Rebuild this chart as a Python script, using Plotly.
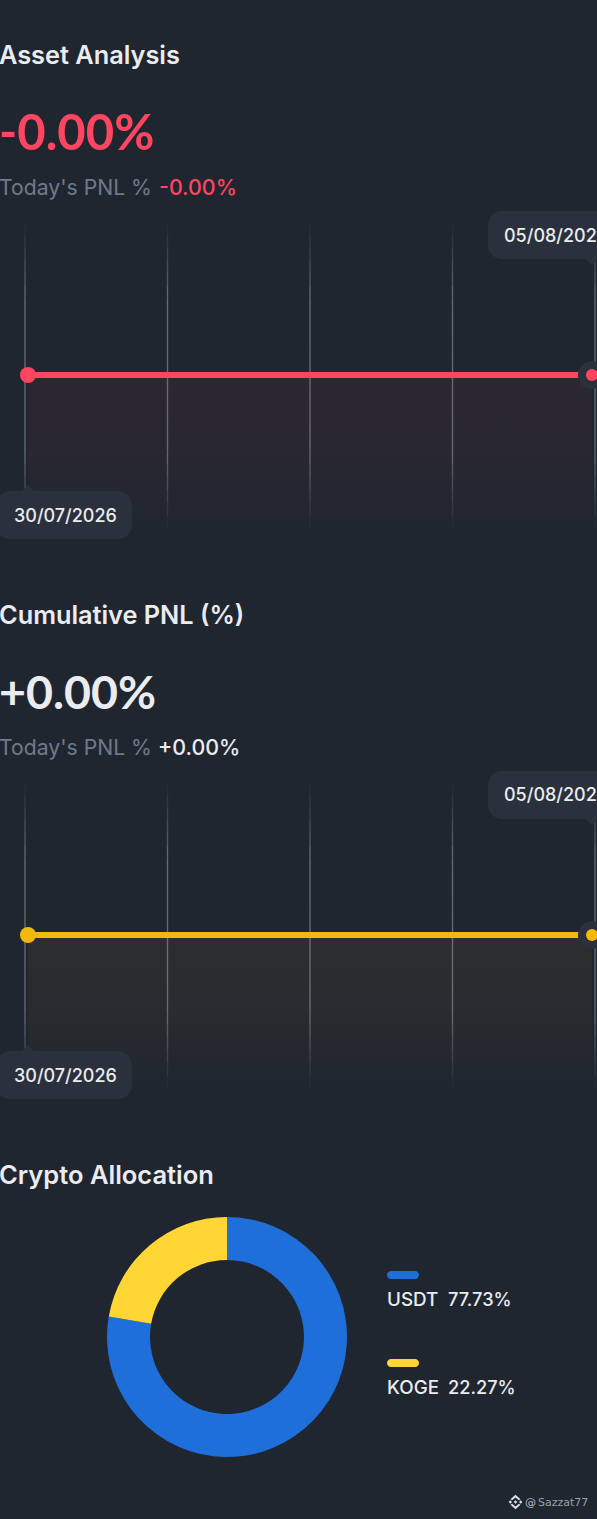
import plotly.graph_objects as go
import pandas as pd

W, H = 597, 1519
BG = "#202630"
TIP = "#2A303C"
TEXT = "#EAECEF"
MUTED = "#707A8A"
RED = "#FF4560"
GOLD = "#F0B90B"
FONT = "Inter"

dates = ["2026-07-30", "2026-07-31", "2026-08-01", "2026-08-02", "2026-08-03", "2026-08-04", "2026-08-05"]
asset_pnl = [0, 0, 0, 0, 0, 0, 0]
cumulative_pnl = [0, 0, 0, 0, 0, 0, 0]
tick_fracs = [0, 0.25, 0.5, 0.75, 1]
alloc_labels = ["USDT", "KOGE"]
alloc_values = [77.73, 22.27]
alloc_colors = ["#1F6FDB", "#FFD633"]


def px(x):
    return x / W


def py(y):
    return 1 - y / H


fig = go.Figure()
shapes, annotations = [], []


def text(x, y, s, size, color, weight=400, family=FONT, anchor="left"):
    annotations.append(dict(
        x=px(x), y=py(y), xref="paper", yref="paper", xanchor=anchor, yanchor="middle",
        text=s, showarrow=False, borderpad=0, borderwidth=0,
        font=dict(size=size, color=color, family=family, weight=weight),
    ))


def path_shape(points_path, fill):
    shapes.append(dict(type="path", path=points_path, xref="paper", yref="paper",
                       fillcolor=fill, line=dict(width=0), layer="above"))


def rrect(x0, y0, x1, y1, r):
    k = 0.45 * r
    def P(x, y):
        return f"{px(x):.6f},{py(y):.6f}"
    return (f"M{P(x0+r,y0)} L{P(x1-r,y0)} C{P(x1-k,y0)} {P(x1,y0+k)} {P(x1,y0+r)} "
            f"L{P(x1,y1-r)} C{P(x1,y1-k)} {P(x1-k,y1)} {P(x1-r,y1)} "
            f"L{P(x0+r,y1)} C{P(x0+k,y1)} {P(x0,y1-k)} {P(x0,y1-r)} "
            f"L{P(x0,y0+r)} C{P(x0,y0+k)} {P(x0+k,y0)} {P(x0+r,y0)} Z")


def poly(pts):
    return "M" + " L".join(f"{px(x):.6f},{py(y):.6f}" for x, y in pts) + " Z"


def panel(idx, top, values, color, fill_rgb, title, big, sub):
    """top = y pixel of the section's title centre"""
    ax = "" if idx == 1 else str(idx)
    plot_top, plot_bot = top + 167, top + 473
    day_frac = 3 / 94
    t0 = pd.Timestamp(dates[0]) - pd.Timedelta(days=day_frac)
    t1 = pd.Timestamp(dates[-1]) + pd.Timedelta(days=day_frac)
    fig.update_layout({
        f"xaxis{ax}": dict(domain=[px(25), px(595)], range=[t0, t1], type="date", visible=False,
                           anchor=f"y{ax}", fixedrange=True),
        f"yaxis{ax}": dict(domain=[py(plot_bot), py(plot_top)], range=[-1, 1], visible=False,
                           anchor=f"x{ax}", fixedrange=True),
    })
    xa, ya = f"x{ax}", f"y{ax}"
    fig.add_trace(go.Scatter(x=dates, y=[-1] * len(dates), xaxis=xa, yaxis=ya, mode="lines",
                             line=dict(width=0), hoverinfo="skip", showlegend=False))
    fig.add_trace(go.Scatter(
        x=dates, y=values, xaxis=xa, yaxis=ya, mode="lines", fill="tonexty",
        line=dict(color=color, width=6), hoverinfo="skip", showlegend=False,
        fillcolor=f"rgba({fill_rgb},0.04)",
        fillgradient=dict(type="vertical", start=0, stop=-1,
                          colorscale=[[0, f"rgba({fill_rgb},0.055)"], [0.5, f"rgba({fill_rgb},0.04)"],
                                      [0.8, f"rgba({fill_rgb},0.015)"], [1, f"rgba({fill_rgb},0)"]]),
    ))
    fig.add_trace(go.Scatter(x=dates[:1], y=values[:1], xaxis=xa, yaxis=ya, mode="markers", cliponaxis=False,
                             marker=dict(color=color, size=16), hoverinfo="skip", showlegend=False))
    fig.add_trace(go.Scatter(x=dates[-1:], y=values[-1:], xaxis=xa, yaxis=ya, mode="markers", cliponaxis=False,
                             marker=dict(color="#2B303B", size=28), hoverinfo="skip", showlegend=False))
    fig.add_trace(go.Scatter(x=dates[-1:], y=values[-1:], xaxis=xa, yaxis=ya, mode="markers", cliponaxis=False,
                             marker=dict(color=color, size=12), hoverinfo="skip", showlegend=False))

    steps = 24
    for f in tick_fracs:
        for i in range(steps):
            a = i / steps
            b = (i + 1) / steps
            m = (a + b) / 2
            op = min(1.0, 4.0 * min(m, 1 - m)) * 0.75
            shapes.append(dict(type="line", xref=f"{xa} domain", yref=f"{ya} domain",
                               x0=f, x1=f, y0=a, y1=b, layer="below",
                               line=dict(color="#7A808C", width=1.4), opacity=max(op, 0.05)))

    path_shape(rrect(-4, top + 436, 132, top + 484, 14), TIP)
    path_shape(poly([(21, top + 437), (28, top + 430), (35, top + 437)]), TIP)
    path_shape(rrect(488, top + 156, 640, top + 204, 14), TIP)
    path_shape(poly([(585, top + 203), (592, top + 210), (599, top + 203)]), TIP)
    text(14, top + 460, "30/07/2026", 18, TEXT, 500)
    text(504, top + 180, "05/08/2026", 18, TEXT, 500)

    text(-1, top - 0.5, title, 25.3, TEXT, 600)
    text(-1, top + 76, big[0], big[2], big[1], 700, "Lato")
    text(-1, top + 132, "Today's PNL %", 21.2, MUTED, 400)
    text(sub[2], top + 132, sub[0], 21.4, sub[1], 500)


panel(1, 55, asset_pnl, RED, "255,69,96", "Asset Analysis", ("-0.00%", RED, 49), ("-0.00%", RED, 159))
panel(2, 615, cumulative_pnl, GOLD, "240,185,11", "Cumulative PNL (%)", ("+0.00%", TEXT, 46.5), ("+0.00%", TEXT, 158))

text(-1, 1174.5, "Crypto Allocation", 25.5, TEXT, 600)
fig.add_trace(go.Pie(
    labels=alloc_labels, values=alloc_values, hole=77 / 120, sort=False, direction="clockwise",
    rotation=0, textinfo="none", hoverinfo="skip", showlegend=False,
    marker=dict(colors=alloc_colors, line=dict(width=0)),
    domain=dict(x=[px(107), px(347)], y=[py(1457), py(1217)]),
))

for i, (lab, val, col) in enumerate(zip(alloc_labels, alloc_values, alloc_colors)):
    y = 1275 + 88 * i
    path_shape(rrect(387, y - 4, 419, y + 4, 4), col)
    text(387, y + 24, lab, 18.8, TEXT, 500)
    text(448, y + 24, f"{val:.2f}%", 18.2, TEXT, 500)

cx, cy = 515.5, 1502
MARK = "#DDE0E4"
for s in (-1, 1):
    path_shape(poly([(cx - 5, cy + s * 2.8), (cx, cy + s * 7.2), (cx + 5, cy + s * 2.8),
                     (cx + 3.4, cy + s * 1.8), (cx, cy + s * 4.6), (cx - 3.4, cy + s * 1.8)]), MARK)
    path_shape(poly([(cx + s * 5.2 - 1.7, cy), (cx + s * 5.2, cy - 1.7), (cx + s * 5.2 + 1.7, cy), (cx + s * 5.2, cy + 1.7)]), MARK)
path_shape(poly([(cx - 1.8, cy), (cx, cy - 1.8), (cx + 1.8, cy), (cx, cy + 1.8)]), MARK)
text(525, 1502, "@", 11, "#B7BDC6", 400, "DejaVu Sans")
text(538, 1502, "Sazzat77", 11, "#9AA0A9", 400, "DejaVu Sans")

fig.update_layout(
    width=W, height=H, margin=dict(l=0, r=0, t=0, b=0),
    paper_bgcolor=BG, plot_bgcolor=BG, showlegend=False,
    shapes=shapes, annotations=annotations,
)

fig.write_html("out.html", config=dict(displayModeBar=False),
               post_script="document.body.style.margin='0';document.body.style.background='#202630';document.body.style.overflow='hidden';")
